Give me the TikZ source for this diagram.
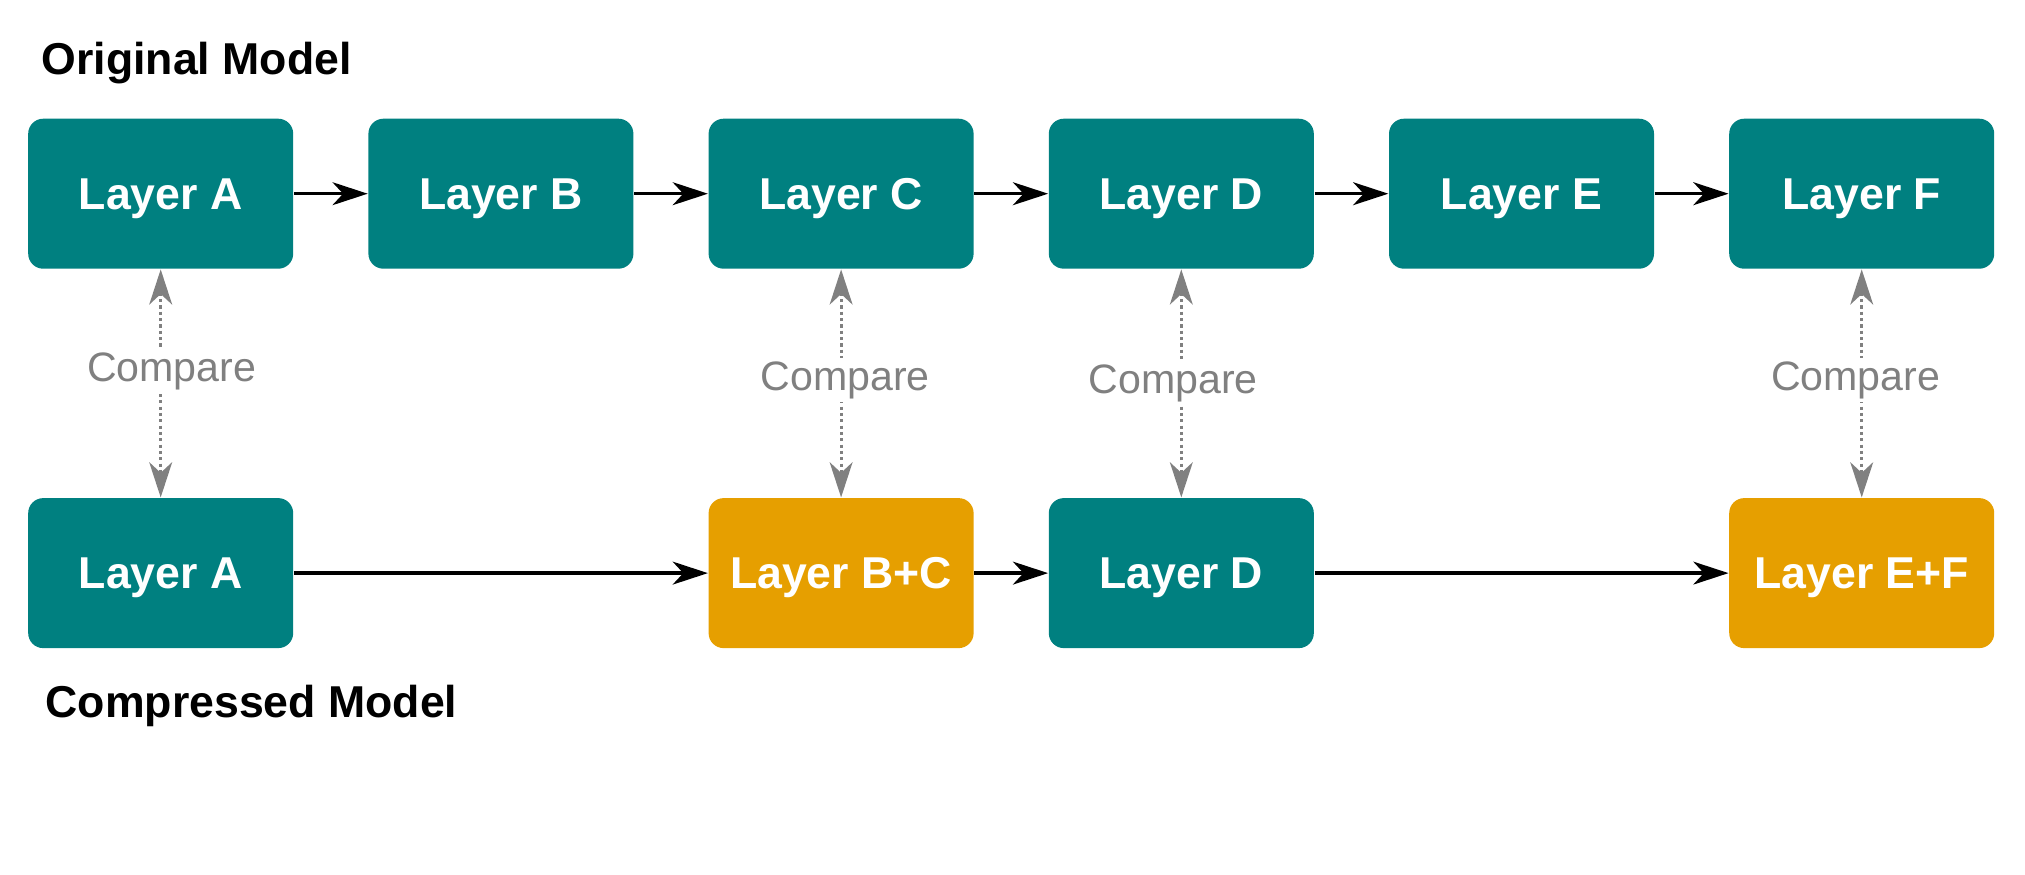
\documentclass[tikz,border=0pt]{standalone}
\usepackage{fontspec}
\setmainfont{Liberation Sans}
\usetikzlibrary{positioning,arrows.meta}

\definecolor{layerteal}{RGB}{0,128,128}
\definecolor{mergedorange}{RGB}{230,159,0}
\definecolor{cmpgray}{RGB}{128,128,128}

\tikzset{
    layer/.style={rectangle, rounded corners=0.15cm, fill=layerteal, text=white,
        minimum width=2.65cm, minimum height=1.5cm, inner sep=0pt, text depth=0pt,
        font=\fontsize{12.7}{15}\selectfont\bfseries},
    merged/.style={layer, fill=mergedorange},
    flow/.style={line width=1pt, -{Stealth[length=10pt, width=6.5pt, inset=3pt]}},
    cmparrow/.style={cmpgray, line width=0.85pt, dash pattern=on 0.9pt off 0.9pt,
        {Stealth[length=10pt, width=6.5pt, inset=3pt]}-{Stealth[length=10pt, width=6.5pt, inset=3pt]}},
    cmplabel/.style={fill=white, text=cmpgray, inner sep=1pt,
        font=\fontsize{11.7}{14}\selectfont},
    title/.style={anchor=base west, inner sep=0pt,
        font=\fontsize{12.7}{15}\selectfont\bfseries}
}

\begin{document}
\begin{tikzpicture}[node distance=2.28cm and 0.738cm]
    \useasboundingbox (0,0) rectangle (20.25,-8.74);

    \node[layer] at (1.607,-1.937) (a1) {Layer A};
    \node[layer, right=of a1] (b1) {Layer B};
    \node[layer, right=of b1] (c1) {Layer C};
    \node[layer, right=of c1] (d1) {Layer D};
    \node[layer, right=of d1] (e1) {Layer E};
    \node[layer, right=of e1] (f1) {Layer F};

    \node[layer, below=of a1] (a2) {Layer A};
    \node[merged, below=of c1] (bc2) {Layer B+C};
    \node[layer, below=of d1] (d2) {Layer D};
    \node[merged, below=of f1] (ef2) {Layer E+F};

    \node[title] at (0.41,-0.74) (orig) {Original Model};
    \node[title] at (0.45,-7.17) (comp) {Compressed Model};

    \draw[flow] (a1) -- (b1);
    \draw[flow] (b1) -- (c1);
    \draw[flow] (c1) -- (d1);
    \draw[flow] (d1) -- (e1);
    \draw[flow] (e1) -- (f1);

    \draw[flow] (a2) -- (bc2);
    \draw[flow] (bc2) -- (d2);
    \draw[flow] (d2) -- (ef2);

    \draw[cmparrow] (a1) -- (a2) node[cmplabel, pos=0.448, xshift=0.11cm] (cmpa) {Compare};
    \draw[cmparrow] (c1) -- (bc2) node[cmplabel, pos=0.485, xshift=0.04cm] (cmpc) {Compare};
    \draw[cmparrow] (d1) -- (d2) node[cmplabel, pos=0.498, xshift=-0.08cm] (cmpd) {Compare};
    \draw[cmparrow] (f1) -- (ef2) node[cmplabel, pos=0.485, xshift=-0.06cm] (cmpf) {Compare};
\end{tikzpicture}
\end{document}
